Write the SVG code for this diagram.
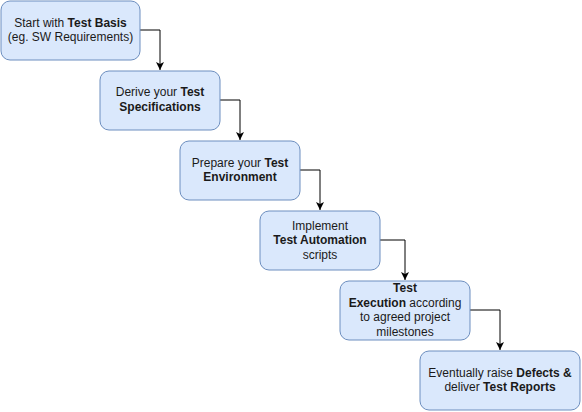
<svg xmlns="http://www.w3.org/2000/svg" width="582" height="412" viewBox="0 0 582 412">
<style>
.box{fill:#dae8fc;stroke:#6c8ebf;stroke-width:1}
.t{font-family:"Liberation Sans",Arial,sans-serif;font-size:12px;fill:#1a1a1a;text-anchor:middle}
.b{font-weight:bold}
.c{fill:none;stroke:#000;stroke-width:1}
</style>
<defs>
<marker id="arr" viewBox="0 0 10 10" refX="10" refY="5" markerWidth="8" markerHeight="8" markerUnits="userSpaceOnUse" orient="auto">
<path d="M0,0 L10,5 L0,10 L2.5,5 Z" fill="#000"/>
</marker>
</defs>
<g id="connectors">
<path class="c" d="M140,30 H160 V70" marker-end="url(#arr)"/>
<path class="c" d="M220,100 H240 V140" marker-end="url(#arr)"/>
<path class="c" d="M300,170 H320 V210" marker-end="url(#arr)"/>
<path class="c" d="M380,240 H405 V280" marker-end="url(#arr)"/>
<path class="c" d="M470,310 H500 V350" marker-end="url(#arr)"/>
</g>
<g id="n1">
<rect class="box" x="1" y="1" width="139" height="59" rx="9"/>
<text class="t" x="70.5" y="27">Start with <tspan class="b">Test Basis</tspan></text>
<text class="t" x="70.5" y="41">(eg. SW Requirements)</text>
</g>
<g id="n2">
<rect class="box" x="100" y="71" width="120" height="59" rx="9"/>
<text class="t" x="160" y="96">Derive your <tspan class="b">Test</tspan></text>
<text class="t b" x="160" y="111">Specifications</text>
</g>
<g id="n3">
<rect class="box" x="180" y="141" width="120" height="59" rx="9"/>
<text class="t" x="240" y="167">Prepare your <tspan class="b">Test</tspan></text>
<text class="t b" x="240" y="181">Environment</text>
</g>
<g id="n4">
<rect class="box" x="260" y="211" width="120" height="59" rx="9"/>
<text class="t" x="320" y="230">Implement</text>
<text class="t b" x="320" y="244">Test Automation</text>
<text class="t" x="320" y="259">scripts</text>
</g>
<g id="n5">
<rect class="box" x="340" y="281" width="130" height="59" rx="9"/>
<text class="t b" x="405" y="292">Test</text>
<text class="t" x="405" y="307"><tspan class="b">Execution</tspan> according</text>
<text class="t" x="405" y="321">to agreed project</text>
<text class="t" x="405" y="336">milestones</text>
</g>
<g id="n6">
<rect class="box" x="420" y="351" width="160" height="59" rx="9"/>
<text class="t" x="500" y="377">Eventually raise <tspan class="b">Defects &amp;</tspan></text>
<text class="t" x="500" y="391">deliver <tspan class="b">Test Reports</tspan></text>
</g>
</svg>
